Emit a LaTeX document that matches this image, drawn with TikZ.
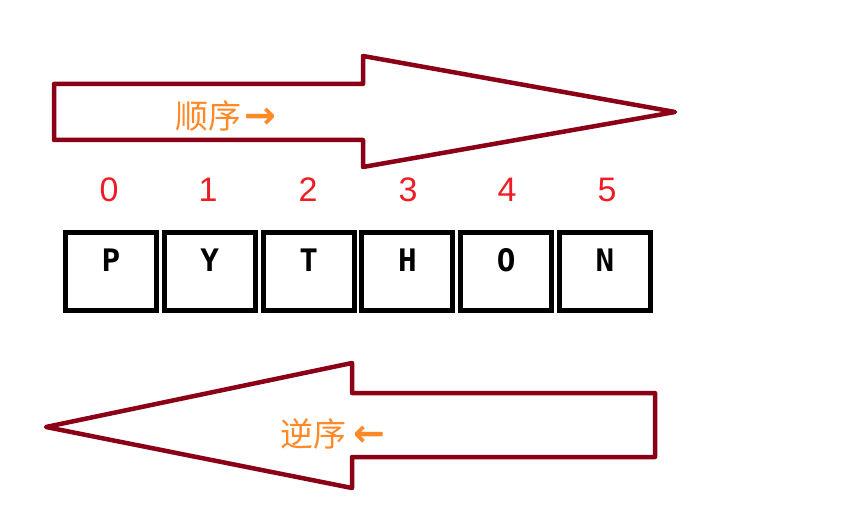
\documentclass[tikz,border=0pt]{standalone}
\usepackage{fontspec}
\setmainfont{Liberation Sans}
\newfontfamily\cjkfont{Noto Sans CJK SC}
\newfontfamily\symfont{DejaVu Sans}
\newfontfamily\letterfont{DejaVu Sans Mono}
\definecolor{arrowred}{RGB}{139,0,22}
\definecolor{digitred}{RGB}{238,28,37}
\definecolor{orangetext}{RGB}{255,137,39}
\newcommand{\heavyarrow}[1]{{\symfont\bfseries\fontsize{38}{38}\selectfont #1}}
\tikzset{
  bigarrow/.style={draw=arrowred, line width=4.5pt, line join=round, fill=white},
  cell/.style={draw=black, line width=5pt, minimum width=91pt, minimum height=78pt, inner sep=0pt},
  letter/.style={font=\letterfont\bfseries\fontsize{31}{31}\selectfont, text=black, inner sep=0pt},
  idx/.style={font=\fontsize{34}{34}\selectfont, text=digitred, inner sep=0pt},
  dirlabel/.style={font=\cjkfont\fontsize{33}{33}\selectfont, text=orangetext, inner sep=0pt}
}
\begin{document}
\begin{tikzpicture}[x=1pt,y=-1pt]
\useasboundingbox (0,0) rectangle (850,521);
% top arrow (forward)
\draw[bigarrow] (54,84) -- (363,84) -- (363,56) -- (675,112) -- (363,167) -- (363,140) -- (54,140) -- cycle;
\node[dirlabel] (fwd) at (226,116) {顺序\kern3pt\heavyarrow{→}};
% bottom arrow (reverse)
\draw[bigarrow] (655,393) -- (352,393) -- (352,363) -- (46,427) -- (352,488) -- (352,457) -- (655,457) -- cycle;
\node[dirlabel] (rev) at (333,434) {逆序\kern7pt\heavyarrow{←}};
% cells
\foreach \i/\ch/\lx in {0/P/109,1/Y/208,2/T/308,3/H/408,4/O/507,5/N/607}{
  \node[cell] (c\i) at (111+98.8*\i,271.5) {};
  \node[letter] (l\i) at ([yshift=11pt]c\i.center) {\ch};
  \node[idx] (n\i) at (\lx,190) {\i};
}
\end{tikzpicture}
\end{document}
